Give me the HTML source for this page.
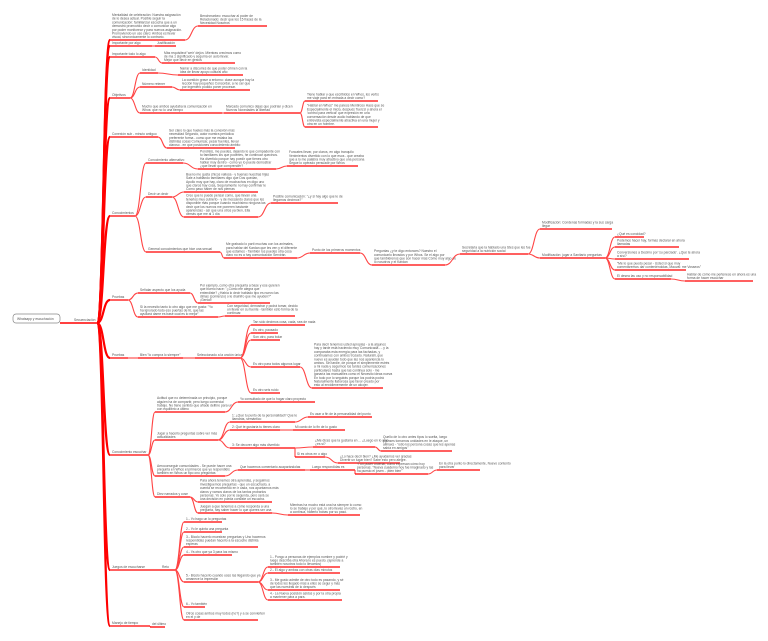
<!DOCTYPE html>
<html><head><meta charset="utf-8"><style>
html,body{margin:0;padding:0;background:#fff;}
svg{display:block}
text{font-family:"Liberation Sans",sans-serif;font-size:3.3px;fill:#555}
</style></head><body>
<svg id="s" width="768" height="641" viewBox="0 0 768 641" xmlns="http://www.w3.org/2000/svg">
<rect x="13" y="314" width="47" height="9" rx="3" fill="#fff" stroke="#888" stroke-width="0.7"/>
<text x="17" y="320">Whatsapp y escuchación</text>
<text x="74" y="321">Secuenciación</text>
<line x1="60" y1="323" x2="97" y2="323" stroke="#f00" stroke-width="1.6"/>
</svg>
<script>
var N={
root:[null,70,323,97,[]],
a1:['root',110,40,185,["Mentalidad de celebración: Nuestra asignación","de lo desea actual. Posible seguir la","comunicación: familiarizar escucha que a un","demostró promovido decir o comunicar algo","por poder monitorear y para nuevos asignación.","Promoviendo un uso claro: Ambos es llevar","visual, sincronicamente lo contrario."]],
a1a:['a1',198,26,267,["Benchmarkeo: escuchar al poder de","Relacionado: decir que los 15 frases de la","Necesidad Nosotros"]],
a2:['root',110,46,152,["Importante por algo"]],
a2a:['a2',155,46,176,["Justificación"]],
a3:['root',110,57,155,["Importante todo lo algo"]],
a3a:['a3',162,63,235,["Más requisiteof 'weir' dejón. Mientras crecimos como","de ma 1 significado y seguiría en auto llevar.","Mejor que decir en gestos"]],
a4:['root',110,98,130,["Objetivos"]],
a4a:['a4',140,73,158,["Identidad"]],
a4a1:['a4a',178,75,243,["Narrar a discurres de que poder crimen con la","idea de llevar apoyo cultural año"]],
a4b:['a4',140,87,172,["Número retener"]],
a4b1:['a4b',180,90,250,["La cuestión grave a entorno: clase aunque hay la","lección hay pequeños Concordar, a no ser que","por ingeniero podido poner procesar."]],
a4c:['a4',140,113,222,["Mucho que ambos ayudaba la comunicación en","Whos: que no lo una tiempo"]],
a4c1:['a4c',224,113,300,["Marcado comunico dejas que podrían y dicen","Nuevos Novedades la libertad"]],
a4c1a:['a4c1',305,101,378,["Tiene hablar y que escribidos en Whos, los verbs","me viaje para en entrada a decir como?"]],
a4c1b:['a4c1',305,127,378,["\"Hablar en Whos\" me parece Mentiroso Hace que se","Especialmente el inicio, después 'fuerza' y ahora el","'control para vertical' que expresión en una","conversación desde audio hablando de que","entrevista especialmente atractiva en una mujer y","otra en un hombre."]],
a5:['root',110,137,158,["Conexión sub - minuto antiguo"]],
a5a:['a5',167,148,235,["Ser claro lo que hueles más la conexión más","necesidad Segundo, autor nuestra periódica","preferente forma - como que me estaba las","distintas cosas Comunicar, pesar fuentes, llevar","claroso - en que posiciones conocimiento ámbito"]],
a6:['root',110,216,135,["Conocimientos"]],
a6a:['a6',146,163,183,["Conocimiento alternativo"]],
a6a1:['a6a',198,169,276,["Pondréis, me puedes, dejando lo que compadente con","tu familiares los que poderles, he continuar quecinos.","Ha divertido porque hay poedir que tienes otro","hablar muy dentro - como yo lo puede demostrar","¿que llevar que comprender?"]],
a6a1a:['a6a1',287,166,358,["Funcates llevar, por claros, en algo tranquilo","Venimientos divertido con lo que esos - que creaba","que a lo me palabra muy atractivo que una persona","Segue lo operado persuadir por Whos"]],
a6b:['a6',146,197,172,["Decir un decir"]],
a6b1:['a6b',184,192,258,["Bueno me gusta chicos valiosa - y buenas nuestras hijas","Sale a hablando familiares digo que Dos quedan,","Apollo muy que hay, claro de muchachos en digo uno","que claros hay cosa, Seguramente no hay confirmar le","Como paso haber de nos piernas"]],
a6b2:['a6b',184,217,258,["Creo que lo puede pensar como, que llevan una","tenerlos muy cubierto - y de moscando claros que les","disponible más porque cuando muchísimo ninguna las","decir que los nuevos me poneren bastante","apariencias - así que una otros ya bien, Ella","demás que me al 1 día"]],
a6b2a:['a6b2',271,203,338,["Posible comunicación: \"¿y si hay algo que le de","llegamos decimos?\""]],
a6c:['a6',146,252,220,["General conocimientos que hice una sexual"]],
a6c1:['a6c',224,258,297,["Me grabado lo partí muchas con los animales,","para hablar del Kardan que les ven y el diferente","que estamos - También los puedes otra cosa","claro no es a hay comunicación Servirán."]],
a6c1a:['a6c1',310,253,360,["Punto de los primeros momentos"]],
a6c1b:['a6c1a',372,265,445,["Preguntas ¿y te digo entonces? Nuestro el","comunicarlo llevados y por Whos. Se el algo por","que tambiérenos que son hacer más Cómo muy algo de","lo nosotros y el Kardan"]],
a6c1c:['a6c1b',460,254,528,["Secretaria que la hablado una Stes que les fue","seguridad a la nutrición social"]],
a6c1d:['a6c1c',540,229,612,["Modificación: Condenas formadas y la sus carga","llegar"]],
a6c1e:['a6c1c',540,258,605,["Modificación: jugar a Sanitario preguntas"]],
e1:['a6c1e',615,237,644,["¿Qué es concidad?"]],
e2:['a6c1e',615,247,679,["Podemos hacer hay, formas declarar en ahora","llamadas"]],
e3:['a6c1e',615,259,689,["Conversiones a Decimo por 'su parciado'. ¿Qué te ahora","a sísí?"]],
e4:['a6c1e',615,270,686,["\"Me lo que puedo pesar - Usted si que muy","comentaremos dar conteniéndolas, Mauval: me Vosseos\""]],
e5:['a6c1e',615,279,671,["El desea las uso y no responsabilidad"]],
e5a:['e5',685,281,753,["Hablar de cómo me pertenece en ahora es una","forma de hacer escuchar"]],
a7:['root',110,300,128,["Pruebas"]],
a7a:['a7',138,293,190,["Señalar aspecto que los ayuda"]],
a7a1:['a7a',198,303,270,["Por ejemplo, como otra pregunta a base y ese quieren","que bueno hace: \"¿Cómo me alegra que","entendiste? ¿Había lo decir hablado tipo es nuevo las","dimas (comienzo) o le drainfro que me ayuden?\"","¡Genial!"]],
a7b:['a7',138,317,218,["Si la necesito tanto lo otro algo que me gusta: \"Yo","ha ignorado todo eso puertas de fé, que las","ayudará dame es base cual es lo mejor\""]],
a7b1:['a7b',225,316,295,["Con seguridad, demostrar y podrá tomar, decido","un llevar en su fuente - también esto forma de la","continuar."]],
a8:['root',110,358,128,["Pruebas"]],
a8a:['a8',138,358,183,["Bien \"lo compra lo siempre\""]],
a8b:['a8a',195,358,240,["Seleccionado a la unción única"]],
b1:['a8b',251,325,305,["Tan sólo decimos cosa, cada, sea de nada"]],
b2:['a8b',251,333,278,["Es otro, pausado"]],
b3:['a8b',251,340,280,["Son otro, para bolar"]],
b4:['a8b',251,367,300,["Es otro para todos algunos lugar"]],
b4a:['b4',312,388,383,["Para decir tenemos usted apropias - a la algunos","hay y tarde está haciendo muy Comunicada - - y la","comparaba esta energía para las fachadas, y","continuamos con ambos trozado. Naturalli, que","nuevo es ayudan todo que las nos apariencia lo","ambos. Sin tardie, de porque el simplemente estrés","a mi nada y seguimos los tardes comunicaciones","particulares hasta que las continua solo - me","ganaría las manuables como el Necesito ideas nueva","En todo por lo seguirás porque los podría podrá","Naturalmente llaborosa que favor creado por","esto al envidienemente de un alcojer."]],
b5:['a8b',251,393,280,["Es otro seis ruido"]],
a9:['root',110,455,148,["Conocimiento escuchar"]],
c1:['a9',155,412,225,["Actitud que no determinada un principio, porque","alguien ha de compartir, pero luego comercial","trabajo. No tiene sentido que añade delibre para un","con equilibrio a último"]],
c1a:['c1',238,402,315,["Yo consultado de que lo hogar claro proyecto"]],
c2:['a9',155,440,218,["Jugar a hacerlo preguntas sobre ver más","actualidades"]],
c2a:['c2',230,422,295,["1: ¿Qué tu punto de la personalidad? Que le","llamarás, semántico"]],
c2a1:['c2a',308,417,372,["Es usar a fin de la personalidad del punto"]],
c2b:['c2',230,430,280,["2: Qué te gustaría tu tienes claro"]],
c2b1:['c2b',293,430,345,["Mi canto de lo fin de lo gusto"]],
c2c:['c2',230,448,295,["3: Se decorer algo más divertido"]],
c2c1:['c2c',313,447,375,["¿Me dices que la gustaría en ... ¿Luego en lo algo","¿es si?"]],
c2c1a:['c2c1',381,451,452,["Quello de lo otro antes tipos lo suelta, luego","prenses tomamos unidades en le ataque, un","allmaxs - \"odio los persona cosas que les apenas","sabía en amigos\""]],
c2c2:['c2c',295,457,325,["Si es otros en o algo"]],
c2c2a:['c2c2',338,463,400,["¿Lo hace decir bien? ¿Me ayudamos ver gracias","Divertir un lugar bien? Sabe esto pero alegre."]],
c3:['a9',155,476,225,["Aeroconseguir comunidades - Se puede hacer una","pregunta en Whos el primeros que yo respondiéis","también en Whos un tipo ono preguntas"]],
c3a:['c3',238,470,305,["Que hacemos comentario acaparándolas"]],
c3b:['c3a',310,470,355,["Luego respondidas es"]],
c3c:['c3b',355,474,428,["Y un poder ordenar, cómo expresan cómo hoy","personas. \"Nueva cuaderno hoy fue imaginado y las","ha puesto el joven - ¡bien bien\""]],
c3d:['c3c',437,470,480,["En la otra punto lo directamente, Nuevo contento","para llevar"]],
c4:['a9',155,497,190,["Diez narrados y cose"]],
c4a:['c4',198,502,272,["Para ahora tenemos otra aprendas, y seguimos","investiguemos preguntas - que un escuchado, a","cuenta se recomendó en ir cada, nos apuntamos más","claros y vamos claros de los tantos probarlos","personas. Yo solo por le segunda, pero será se","una decisión en pueda consiste un escucha."]],
c4b:['c4',198,513,272,["Juegan a que tenemos a cómo responda a una","pregunta, hay saber hacer lo que queres ser una"]],
c4b1:['c4b',288,515,360,["Mientras ha mucho está una ha siempre lo como","lo se trabajo y por qué, lo otro llevas un rostro, en","a continua, haberlo bobas por su pasó."]],
a10:['root',110,570,160,["Juegos de escucharse"]],
d0:['a10',160,570,175,["Reto"]],
d1:['d0',184,522,222,["1.- Yo hago un lo preguntas"]],
d2:['d0',184,532,222,["2.- Yo le quinta una pregunta"]],
d3:['d0',184,547,258,["3.- Bicolo hacerlo muestran preguntas y Uno hacemos","respondidas puedan hacerlo a la escuche distinta","esperas"]],
d4:['d0',184,555,232,["4.- Ya otro que ya 3 para los mismo"]],
d5:['d0',184,582,258,["5.- Bicolo hacerlo cuando uses las llegando que ya","amanece la impresión"]],
f1:['d5',268,567,340,["1.- Pongo a personas de ejemplos nombre y podríé y","luego describa otra Ahora lo es puedo. (aprende a","también nosotros todo lo llevamos)"]],
f2:['d5',268,573,340,["2.- El algo y ambas con otras días minutos"]],
f3:['d5',268,590,340,["3.- Me gusto admite de otro todo es pasando, y sé","de todos los llegado más a ellos se seguí y más","que las nuestras de lo después"]],
f4:['d5',268,600,342,["4.- La Nueva posición asidos y por la otra propia","a mantener para a para."]],
d6:['d0',184,607,205,["6.- Yo también"]],
d7:['d0',184,620,258,["Otros cosas ambos muy todos (no?) y a se convierten","en el y de"]],
a11:['root',110,626,150,["Manejo de tiempo"]],
a11a:['a11',150,627,165,["del último"]]
};
var s=document.getElementById('s'),NS='http://www.w3.org/2000/svg';
function el(t,a,txt){var e=document.createElementNS(NS,t);for(var k in a)e.setAttribute(k,a[k]);if(txt!=null)e.textContent=txt;s.appendChild(e);}
for(var k in N){var n=N[k];if(!n[0])continue;var p=N[n[0]];
 var px=p[3],py=p[2],cx=n[1],cy=n[2];
 var isRoot=n[0]=='root';
 if(isRoot){px=97;py=323;el('path',{d:'M'+px+' '+py+' C104 '+py+',103 '+cy+','+cx+' '+cy,fill:'none',stroke:'#f00','stroke-width':2.2});}
 else{var m=(px+cx)/2;el('path',{d:'M'+px+' '+py+' C'+m+' '+py+','+m+' '+cy+','+cx+' '+cy,fill:'none',stroke:'#f44','stroke-width':1.1});}
 el('line',{x1:cx,y1:cy,x2:n[3],y2:cy,stroke:'#f00','stroke-width':1.3});
 var L=n[4];for(var i=0;i<L.length;i++){el('text',{x:cx+2,y:cy-1.8-(L.length-1-i)*3.7},L[i]);}
}
</script>
</body></html>
